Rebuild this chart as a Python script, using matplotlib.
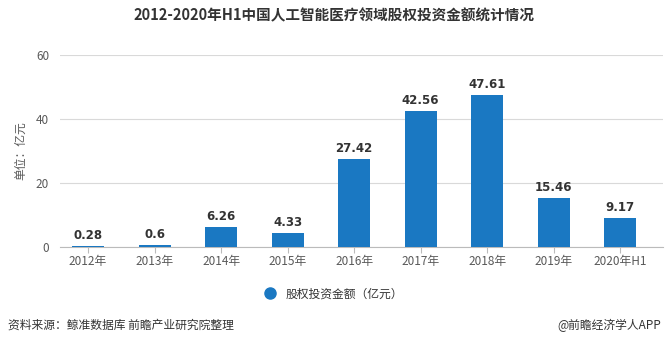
import matplotlib.pyplot as plt
import numpy as np

plt.rcParams['font.family'] = ['Noto Sans CJK SC', 'DejaVu Sans']

years = ['2012年', '2013年', '2014年', '2015年', '2016年', '2017年', '2018年', '2019年', '2020年H1']
amounts = [0.28, 0.6, 6.26, 4.33, 27.42, 42.56, 47.61, 15.46, 9.17]
labels = ['0.28', '0.6', '6.26', '4.33', '27.42', '42.56', '47.61', '15.46', '9.17']

blue = '#1a78c2'
grey = '#595959'

fig = plt.figure(figsize=(6.68, 3.48), dpi=100)
ax = fig.add_axes([0.09, 0.29, 0.903, 0.552])

x = np.arange(len(years))
ax.bar(x, amounts, width=0.48, color=blue, zorder=3)
for xi, v, t in zip(x, amounts, labels):
    ax.text(xi, v + 1.2, t, ha='center', va='bottom', fontsize=8.5,
            fontweight='bold', color='#333333', family=['DejaVu Sans'])

ax.set_ylim(0, 60)
ax.set_yticks([0, 20, 40, 60])
ax.set_xlim(-0.42, 8.65)
ax.set_xticks(x)
ax.set_xticklabels(years, fontsize=8.5, color=grey)
ax.tick_params(axis='y', labelsize=8.5, colors=grey, length=0, pad=8)
ax.tick_params(axis='x', length=4, color='#bbbbbb', pad=2)
ax.grid(axis='y', color='#d9d9d9', linewidth=0.8, zorder=0)
for s in ['top', 'right', 'left']:
    ax.spines[s].set_visible(False)
ax.spines['bottom'].set_color('#bbbbbb')
ax.set_ylabel('单位：亿元', fontsize=8.5, color=grey, labelpad=6)

fig.text(0.5, 0.955, '2012-2020年H1中国人工智能医疗领域股权投资金额统计情况',
         ha='center', va='center', fontsize=10.5, fontweight='bold', color='#333333')

fig.legend(handles=[plt.Line2D([], [], marker='o', linestyle='', color=blue, markersize=8)],
           labels=['股权投资金额（亿元）'], loc='center', bbox_to_anchor=(0.495, 0.155),
           frameon=False, fontsize=8.5, handletextpad=0.3, labelcolor='#333333')

fig.text(0.012, 0.065, '资料来源：鲸准数据库 前瞻产业研究院整理', ha='left', va='center',
         fontsize=8.5, color='#333333')
fig.text(0.99, 0.065, '@前瞻经济学人APP', ha='right', va='center',
         fontsize=8.5, color='#333333')

fig.savefig('out.png', dpi=100, facecolor='white')
